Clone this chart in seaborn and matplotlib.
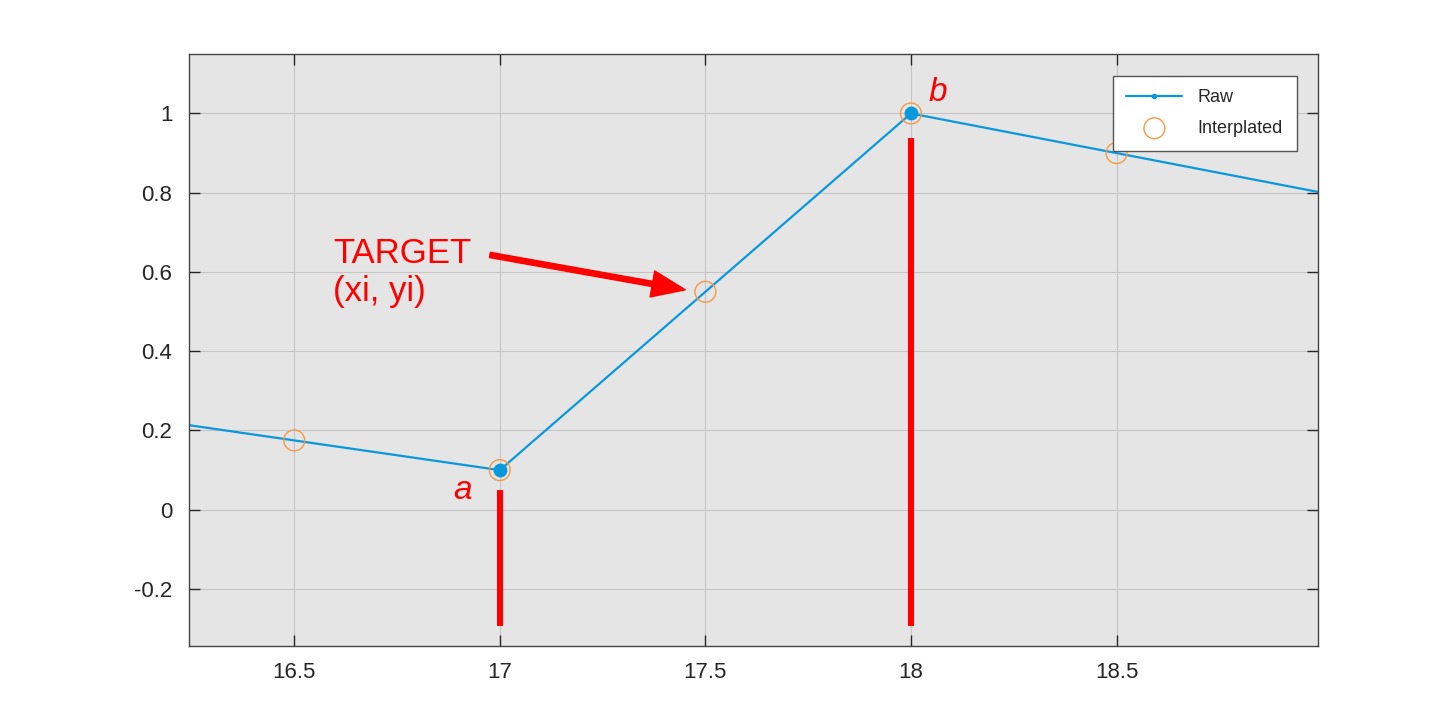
import numpy as np
import pandas as pd
import matplotlib
matplotlib.use('Agg')
import matplotlib.pyplot as plt
import seaborn as sns

# raw samples and the interpolated ones
raw_x = [16, 17, 18, 19]
raw_y = [0.25, 0.1, 1.0, 0.8]
interp_x = [16.5, 17, 17.5, 18, 18.5]
interp_y = [0.175, 0.1, 0.55, 1.0, 0.9]
xticks = [16.5, 17, 17.5, 18, 18.5]
yticks = [-0.2, 0, 0.2, 0.4, 0.6, 0.8, 1]

blue = '#0a98dc'
orange = '#f39a45'
red = '#ff0000'

sns.set_style('whitegrid')
plt.rcParams['font.family'] = ['Liberation Sans', 'DejaVu Sans']

raw_df = pd.DataFrame({'x': raw_x, 'y': raw_y})
int_df = pd.DataFrame({'x': interp_x, 'y': interp_y})

fig = plt.figure(figsize=(14.56, 7.25), dpi=100)
ax = fig.add_axes([0.1298, 0.1094, 0.7754, 0.8161])
ax.set_facecolor('#e5e5e5')

sns.lineplot(data=raw_df, x='x', y='y', ax=ax, color=blue, lw=1.6,
             marker='o', markersize=10, markeredgewidth=0, markevery=[1, 2],
             label='Raw')
sns.scatterplot(data=int_df, x='x', y='y', ax=ax, s=225, facecolors='none',
                edgecolor=orange, linewidth=1.0, label='Interplated', zorder=3)
ax.collections[-1].set_facecolor('none')
ax.collections[-1].set_edgecolor(orange)

# red hand annotations
ax.vlines([17], -0.293, 0.049, color=red, lw=4.4, zorder=4)
ax.vlines([18], -0.293, 0.938, color=red, lw=4.4, zorder=4)
ax.text(16.91, 0.048, 'a', color=red, fontsize=24, ha='center', va='center',
        style='italic')
ax.text(18.065, 1.054, 'b', color=red, fontsize=24, ha='center', va='center',
        style='italic')
ax.text(16.594, 0.598, 'TARGET\n(xi, yi)', color=red, fontsize=25,
        ha='left', va='center', linespacing=1.2)
ax.annotate('', xy=(17.451, 0.555), xytext=(16.976, 0.643),
            arrowprops=dict(facecolor=red, edgecolor=red, width=3.8,
                            headwidth=19, headlength=24, shrink=0))

ax.set_xlim(16.244, 18.99)
ax.set_ylim(-0.343, 1.15)
ax.set_xticks(xticks)
ax.set_yticks(yticks)
ax.set_xticklabels(['16.5', '17', '17.5', '18', '18.5'])
ax.set_yticklabels(['-0.2', '0', '0.2', '0.4', '0.6', '0.8', '1'])
ax.set_xlabel('')
ax.set_ylabel('')
ax.grid(True, color='#c4c4c4', lw=0.8)
ax.tick_params(direction='in', length=8, width=1, color='#262626',
               labelsize=16, labelcolor='#262626', pad=12,
               top=True, right=True, bottom=True, left=True)
for s in ax.spines.values():
    s.set_color('#444444')
    s.set_linewidth(1.0)

leg = ax.legend(loc='upper right', bbox_to_anchor=(0.981, 0.963), fontsize=13,
                borderaxespad=0, frameon=True, fancybox=False,
                edgecolor='#555555', framealpha=1, borderpad=0.75,
                labelspacing=0.75, handlelength=3.1, handletextpad=0.85)
leg.get_frame().set_linewidth(1.0)
h = leg.legend_handles
h[0].set_markersize(4)

fig.savefig('out.png', dpi=100)
